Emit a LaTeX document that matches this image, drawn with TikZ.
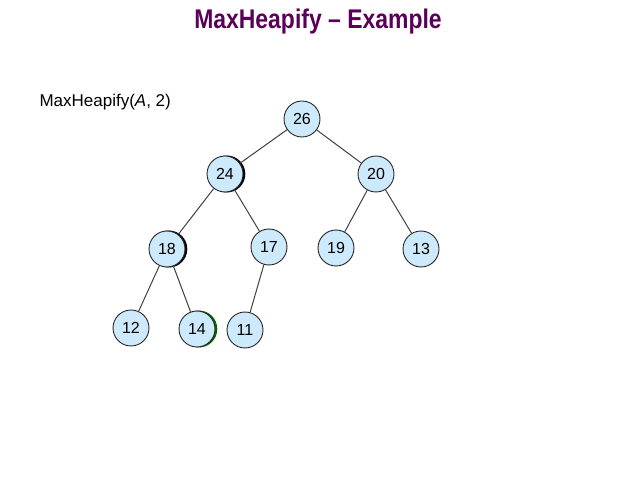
\documentclass[tikz,border=0pt]{standalone}
\usepackage{fontspec}
\setmainfont{Liberation Sans}
\definecolor{nodefill}{RGB}{205,234,252}
\begin{document}
\begin{tikzpicture}[x=1pt,y=-1pt,
  nd/.style={circle,draw=black!85,line width=0.9pt,fill=nodefill,minimum size=36pt,inner sep=0pt,font=\fontsize{16}{18}\selectfont},
  edge/.style={draw=black!75,line width=1pt}]
\useasboundingbox (0,0) rectangle (638,478);
\node[font=\bfseries\fontsize{27}{30}\selectfont,text=violet!70!black,xscale=0.85] (title) at (318,22) {MaxHeapify – Example};
\node[anchor=west,font=\fontsize{17}{19}\selectfont] (call) at (36,102) {MaxHeapify(\textit{A}, 2)};
\foreach \n/\x/\y/\s in {24/225/174/black,18/167/249/black,14/197/329/green!40!black}
  \fill[\s] (\x+1.8,\y) circle (18.5pt);
\node[nd] (n26) at (302,119) {26};
\node[nd] (n24) at (225,174) {24};
\node[nd] (n20) at (376,174) {20};
\node[nd] (n18) at (167,249) {18};
\node[nd] (n17) at (269,247) {17};
\node[nd] (n19) at (336,248) {19};
\node[nd] (n13) at (421,249) {13};
\node[nd] (n12) at (131,328) {12};
\node[nd] (n14) at (197,329) {14};
\node[nd] (n11) at (245,330) {11};
\draw[edge] (n26)--(n24); \draw[edge] (n26)--(n20);
\draw[edge] (n24)--(n18); \draw[edge] (n24)--(n17);
\draw[edge] (n20)--(n19); \draw[edge] (n20)--(n13);
\draw[edge] (n18)--(n12); \draw[edge] (n18)--(n14);
\draw[edge] (n17)--(n11);
\end{tikzpicture}
\end{document}
